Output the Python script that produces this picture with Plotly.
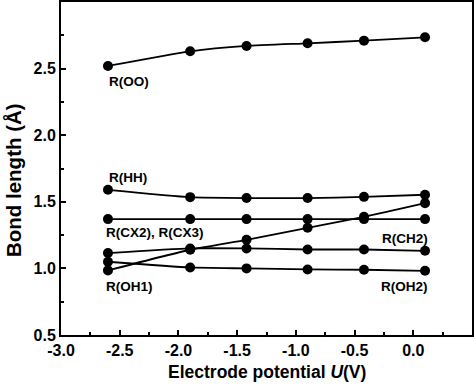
import plotly.graph_objects as go

U = [-2.6, -1.9, -1.42, -0.9, -0.42, 0.1]
R_OO = [2.52, 2.63, 2.67, 2.69, 2.71, 2.735]
R_HH = [1.59, 1.535, 1.528, 1.528, 1.537, 1.553]
R_CX = [1.37, 1.37, 1.37, 1.37, 1.37, 1.37]
R_CH2 = [1.115, 1.15, 1.15, 1.142, 1.142, 1.132]
R_OH1 = [0.985, 1.14, 1.215, 1.305, 1.387, 1.49]
R_OH2 = [1.05, 1.007, 1.0, 0.992, 0.99, 0.982]

labels = ["R(OO)", "R(HH)", "R(CX2), R(CX3)", "R(OH1)", "R(CH2)", "R(OH2)"]
x_title = "Electrode potential <i>U</i>(V)"
y_title = "Bond length (Å)"

FONT = "Liberation Sans, Arial, sans-serif"
fig = go.Figure()
for ys in [R_OO, R_HH, R_CX, R_CH2, R_OH1, R_OH2]:
    fig.add_trace(go.Scatter(x=U, y=ys, mode="lines+markers",
                             line=dict(color="black", width=1.8, shape="spline", smoothing=0.5),
                             marker=dict(color="black", size=10),
                             showlegend=False, hoverinfo="skip"))

ann = [
    (labels[0], -2.61, 2.40, "left"),
    (labels[1], -2.61, 1.685, "left"),
    (labels[2], -2.635, 1.272, "left"),
    (labels[3], -2.635, 0.862, "left"),
    (labels[4], 0.145, 1.228, "right"),
    (labels[5], 0.145, 0.862, "right"),
]
for t, x, y, xa in ann:
    fig.add_annotation(x=x, y=y, text=t, showarrow=False, xanchor=xa, yanchor="middle",
                       font=dict(family=FONT, size=13.5, color="black", weight="bold"))

# axis titles placed as paper annotations
fig.add_annotation(x=0.5, y=-0.112, xref="paper", yref="paper", text=x_title,
                   showarrow=False, xanchor="center", yanchor="middle",
                   font=dict(family=FONT, size=17.5, color="black", weight="bold"))
fig.add_annotation(x=-0.117, y=0.465, xref="paper", yref="paper", text=y_title,
                   showarrow=False, xanchor="center", yanchor="middle", textangle=-90,
                   font=dict(family=FONT, size=20.5, color="black", weight="bold"))

axis_common = dict(showline=True, linecolor="black", linewidth=2, mirror=True,
                   ticks="inside", ticklen=5, tickwidth=1.5, tickcolor="black",
                   showgrid=False, zeroline=False, automargin=False,
                   tickfont=dict(family=FONT, size=16, color="black", weight="bold"),
                   minor=dict(ticks="inside", ticklen=3, tickwidth=1.5, tickcolor="black"))

fig.update_xaxes(range=[-3.0, 0.5], tickvals=[-3.0, -2.5, -2.0, -1.5, -1.0, -0.5, 0.0],
                 ticktext=["-3.0", "-2.5", "-2.0", "-1.5", "-1.0", "-0.5", "0.0"],
                 **axis_common)
fig.update_xaxes(minor=dict(dtick=0.25, tick0=-3.0))
fig.update_yaxes(range=[0.5, 3.0], tickvals=[0.5, 1.0, 1.5, 2.0, 2.5],
                 ticktext=["0.5", "1.0", "1.5", "2.0", "2.5"],
                 **axis_common)
fig.update_yaxes(minor=dict(dtick=0.25, tick0=0.5))

fig.update_layout(width=474, height=386, margin=dict(l=61, r=2, t=2, b=51),
                  plot_bgcolor="white", paper_bgcolor="white", hovermode=False)
fig.write_html("out.html", config={"displayModeBar": False},
               post_script="document.body.style.margin='0';")
